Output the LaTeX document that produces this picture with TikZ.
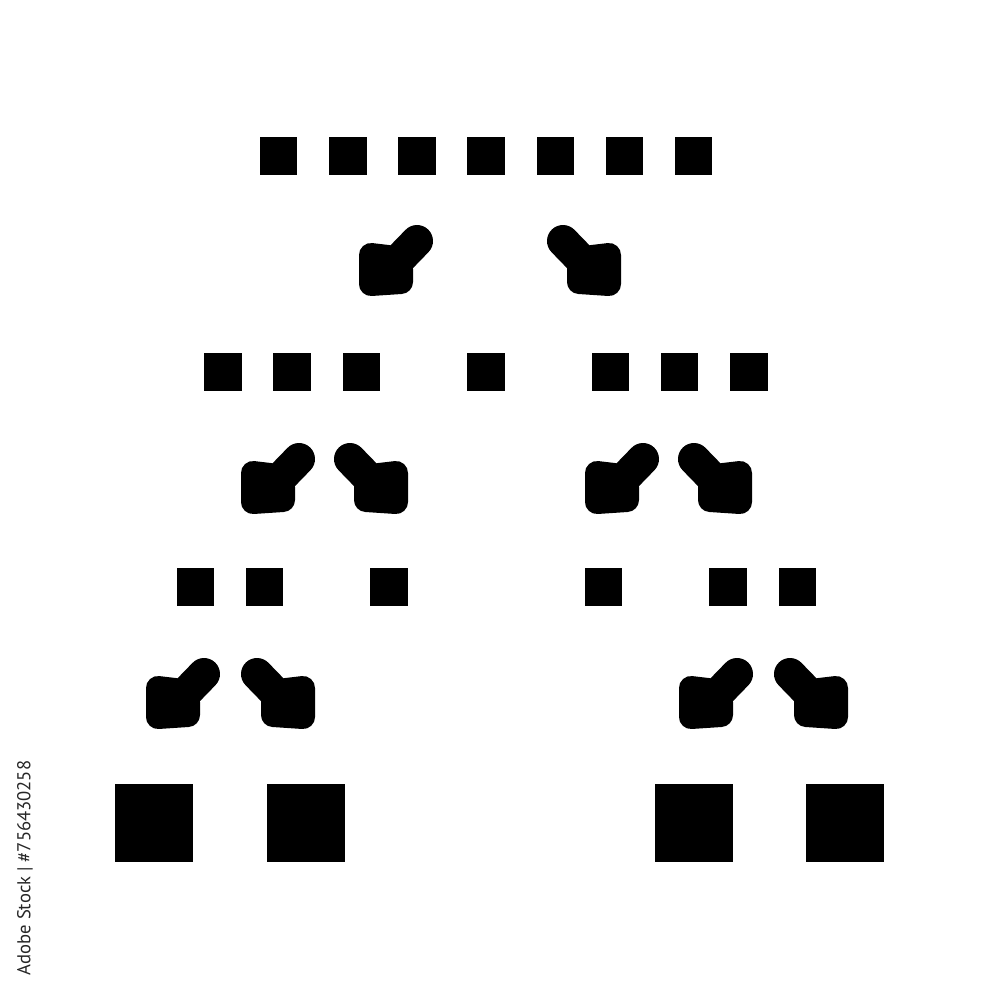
\documentclass[tikz,border=0pt]{standalone}
\usepackage{fontspec}
\newfontfamily\stockfont{PT Sans}
\tikzset{
  sq/.style={fill=black, inner sep=0pt, minimum size=3.74mm},
  bigsq/.style={fill=black, inner sep=0pt, minimum size=7.8mm},
  shaft/.style={line width=3.2mm, line cap=round},
  head/.style={line width=2.4mm, line join=round}
}
\begin{document}
\begin{tikzpicture}[x=0.1mm, y=-0.1mm]
  \useasboundingbox (0,0) rectangle (1000,1000);

  \draw (278.7,156) node[sq] (11) {};
  \draw (347.8,156) node[sq] (12) {};
  \draw (417,156)   node[sq] (13) {};
  \draw (486,156)   node[sq] (14) {};
  \draw (555.3,156) node[sq] (15) {};
  \draw (624.7,156) node[sq] (16) {};
  \draw (693.7,156) node[sq] (17) {};

  \coordinate (t1) at (417,241);
  \coordinate (h1) at (384,275);
  \draw[shaft] (t1) -- (h1);
  \filldraw[head] (h1) ++(-13,-20) -- ++(0,29) -- ++(30,-2) -- ++(0,-13) -- ++(-13,-12) -- cycle;
  \coordinate (t2) at (563,241);
  \coordinate (h2) at (596,275);
  \draw[shaft] (t2) -- (h2);
  \filldraw[head] (h2) ++(13,-20) -- ++(0,29) -- ++(-30,-2) -- ++(0,-13) -- ++(13,-12) -- cycle;

  \draw (223,372)   node[sq] (21) {};
  \draw (292,372)   node[sq] (22) {};
  \draw (361.6,372) node[sq] (23) {};
  \draw (486,372)   node[sq] (24) {};
  \draw (610.7,372) node[sq] (25) {};
  \draw (679.6,372) node[sq] (26) {};
  \draw (749,372)   node[sq] (27) {};

  \coordinate (t3) at (299,459);
  \coordinate (h3) at (266,493);
  \draw[shaft] (t3) -- (h3);
  \filldraw[head] (h3) ++(-13,-20) -- ++(0,29) -- ++(30,-2) -- ++(0,-13) -- ++(-13,-12) -- cycle;
  \coordinate (t4) at (350,459);
  \coordinate (h4) at (383,493);
  \draw[shaft] (t4) -- (h4);
  \filldraw[head] (h4) ++(13,-20) -- ++(0,29) -- ++(-30,-2) -- ++(0,-13) -- ++(13,-12) -- cycle;
  \coordinate (t5) at (643,459);
  \coordinate (h5) at (610,493);
  \draw[shaft] (t5) -- (h5);
  \filldraw[head] (h5) ++(-13,-20) -- ++(0,29) -- ++(30,-2) -- ++(0,-13) -- ++(-13,-12) -- cycle;
  \coordinate (t6) at (694,459);
  \coordinate (h6) at (727,493);
  \draw[shaft] (t6) -- (h6);
  \filldraw[head] (h6) ++(13,-20) -- ++(0,29) -- ++(-30,-2) -- ++(0,-13) -- ++(13,-12) -- cycle;

  \draw (195.2,587) node[sq] (31) {};
  \draw (264.6,587) node[sq] (32) {};
  \draw (389,587)   node[sq] (33) {};
  \draw (603.7,587) node[sq] (34) {};
  \draw (728,587)   node[sq] (35) {};
  \draw (797.5,587) node[sq] (36) {};

  \coordinate (t7) at (204,674);
  \coordinate (h7) at (171,708);
  \draw[shaft] (t7) -- (h7);
  \filldraw[head] (h7) ++(-13,-20) -- ++(0,29) -- ++(30,-2) -- ++(0,-13) -- ++(-13,-12) -- cycle;
  \coordinate (t8) at (257,674);
  \coordinate (h8) at (290,708);
  \draw[shaft] (t8) -- (h8);
  \filldraw[head] (h8) ++(13,-20) -- ++(0,29) -- ++(-30,-2) -- ++(0,-13) -- ++(13,-12) -- cycle;
  \coordinate (t9) at (737,674);
  \coordinate (h9) at (704,708);
  \draw[shaft] (t9) -- (h9);
  \filldraw[head] (h9) ++(-13,-20) -- ++(0,29) -- ++(30,-2) -- ++(0,-13) -- ++(-13,-12) -- cycle;
  \coordinate (t10) at (790,674);
  \coordinate (h10) at (823,708);
  \draw[shaft] (t10) -- (h10);
  \filldraw[head] (h10) ++(13,-20) -- ++(0,29) -- ++(-30,-2) -- ++(0,-13) -- ++(13,-12) -- cycle;

  \draw (154.4,823) node[bigsq] (41) {};
  \draw (305.6,823) node[bigsq] (42) {};
  \draw (694.4,823) node[bigsq] (43) {};
  \draw (845.4,823) node[bigsq] (44) {};

  \node[rotate=90, inner sep=0pt, text=black!85,
        font=\stockfont\fontsize{5.3}{6}\selectfont] (stock) at (25,868)
       {Adobe Stock | \#756430258};
\end{tikzpicture}
\end{document}
